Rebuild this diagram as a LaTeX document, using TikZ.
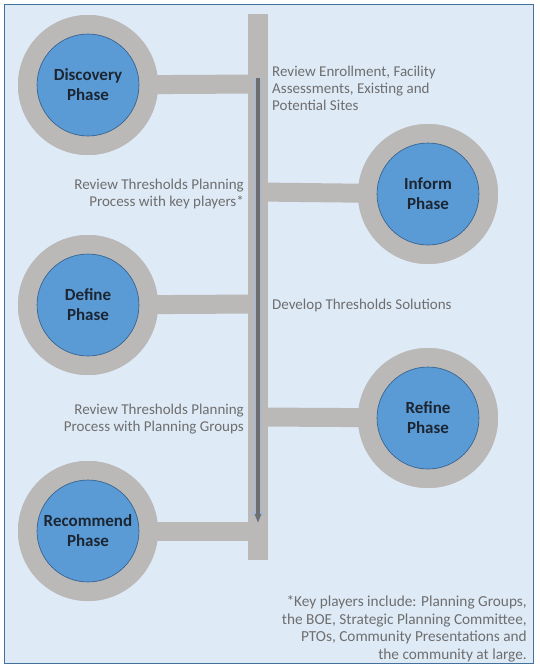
\documentclass[tikz,border=0pt]{standalone}
\usepackage{fontspec}
\setmainfont{Carlito}
\usetikzlibrary{arrows.meta}
\definecolor{bgfill}{HTML}{DEEAF6}
\definecolor{frame}{HTML}{41719C}
\definecolor{bar}{HTML}{BBB9B7}
\definecolor{phase}{HTML}{5B9BD5}
\definecolor{phaseline}{HTML}{2E5C8A}
\definecolor{txt}{HTML}{6E6E6E}
\definecolor{dark}{HTML}{1C2633}
\definecolor{arr}{HTML}{6E6E6E}
\definecolor{glow}{HTML}{9DB9E0}
\tikzset{
  ring/.style={circle, fill=bar, minimum size=140pt, inner sep=0pt},
  phasebox/.style={circle, fill=phase, draw=phaseline, line width=0.6pt, minimum size=102pt, inner sep=0pt, font=\fontsize{17}{20}\selectfont\bfseries, text=dark, align=center},
  stem/.style={draw=bar, line width=19pt},
  note/.style={font=\fontsize{15}{17}\selectfont, text=txt, inner sep=0pt},
}
\begin{document}
\begin{tikzpicture}[x=1pt,y=-1pt]
\useasboundingbox (0,0) rectangle (539,670);
\draw[frame, fill=bgfill, line width=1pt] (4.5,4.5) rectangle (533.5,663.5);
% vertical bar
\coordinate (bartop) at (258,14);
\coordinate (barbot) at (258,560);
\draw[draw=bar, line width=20pt] (bartop) -- (barbot);
% rings
\node[ring] (r1) at (88,85) {};
\node[ring] (r2) at (428,194) {};
\node[ring] (r3) at (88,305) {};
\node[ring] (r4) at (428,418) {};
\node[ring] (r5) at (88,531) {};
\coordinate (b1) at (258,84);
\coordinate (b2) at (258,192);
\coordinate (b3) at (258,304);
\coordinate (b4) at (258,417);
\coordinate (b5) at (258,531);
\draw[stem] (r1.center) -- (b1);
\draw[stem] (r2.center) -- (b2);
\draw[stem] (r3.center) -- (b3);
\draw[stem] (r4.center) -- (b4);
\draw[stem] (r5.center) -- (b5);
\node[ring] at (88,85) {};
\node[ring] at (428,194) {};
\node[ring] at (88,305) {};
\node[ring] at (428,418) {};
\node[ring] at (88,531) {};
% phases
\node[phasebox] (p1) at (88,85) {Discovery\\Phase};
\node[phasebox] (p2) at (428,194) {Inform\\Phase};
\node[phasebox] (p3) at (88,305) {Define\\Phase};
\node[phasebox] (p4) at (428,418) {Refine\\Phase};
\node[phasebox] (p5) at (88,531) {Recommend\\Phase};
% arrow
\coordinate (as) at (258,78);
\coordinate (ae) at (258,523);
\draw[glow, line width=6pt, -{Triangle[length=11pt,width=9pt]}] (as) -- (ae);
\draw[arr, line width=3.8pt, -{Triangle[length=9pt,width=6pt]}] (as) -- (ae);
% texts
\node[note, anchor=north west, align=left] (t1) at (272,66) {Review Enrollment, Facility\\Assessments, Existing and\\Potential Sites};
\node[note, anchor=north east, align=right] (t2) at (244,178.5) {Review Thresholds Planning\\Process with key players*};
\node[note, anchor=north west, align=left] (t3) at (272,299) {Develop Thresholds Solutions};
\node[note, anchor=north east, align=right] (t4) at (244,404) {Review Thresholds Planning\\Process with Planning Groups};
\node[note, anchor=north east, align=right, font=\fontsize{15.3}{17.5}\selectfont] (t5) at (527,595.5) {*Key players include: Planning Groups,\\the BOE, Strategic Planning Committee,\\PTOs, Community Presentations and\\the community at large.};
\end{tikzpicture}
\end{document}
